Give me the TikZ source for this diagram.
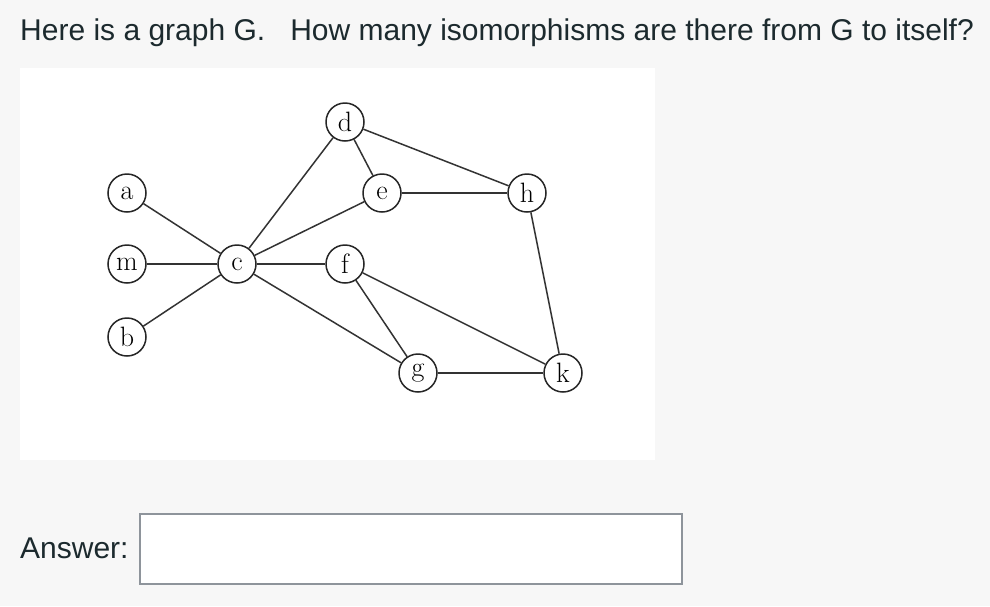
\documentclass[tikz,border=0pt]{standalone}
\usepackage{fontspec}
\newfontfamily\uifont{Liberation Sans}
\usetikzlibrary{positioning}
\definecolor{pagegray}{HTML}{F7F7F7}
\definecolor{inktext}{HTML}{1C2A2E}
\definecolor{boxgray}{HTML}{8E949B}
\definecolor{edgegray}{HTML}{333333}

\begin{document}
\begin{tikzpicture}[x=1pt,y=-1pt,
    vertex/.style={draw=black!85,circle,fill=white,line width=1.5pt,minimum size=38pt,inner sep=0pt,font=\fontsize{28}{28}\selectfont},
    every edge/.style={draw=edgegray,line width=1.5pt}]
    % page and figure area
    \fill [pagegray] (0,0) rectangle (990,606);
    \fill [white] (20,68) rectangle (655,460);
    \node [anchor=base west,inner sep=0pt,text=inktext,font=\uifont\fontsize{30}{36}\selectfont] (question) at (20,40) {Here is a graph G.\ \ \ How many isomorphisms are there from G to itself?};

    \node [vertex] (a) at (127,193) {a};
    \node [vertex] (m) at (127,264) {m};
    \node [vertex] (b) at (127,337) {b};
    \node [vertex] (c) at (237,264) {c};
    \node [vertex] (d) at (345,122) {d};
    \node [vertex] (e) at (382,193) {e};
    \node [vertex] (f) at (345,264) {f};
    \node [vertex] (h) at (527,193) {h};
    \node [vertex] (g) at (418,373) {g};
    \node [vertex] (k) at (563,373) {k};

    \path
        (a) edge (c)
        (m) edge (c)
        (b) edge (c)
        (c) edge (d)
        (c) edge (e)
        (c) edge (f)
        (c) edge (g)
        (d) edge (e)
        (d) edge (h)
        (e) edge (h)
        (f) edge (g)
        (f) edge (k)
        (h) edge (k)
        (g) edge (k)
    ;

    % answer field
    \node [anchor=base west,inner sep=0pt,text=inktext,font=\uifont\fontsize{30}{36}\selectfont] (answer) at (20,558) {Answer:};
    \node [draw=boxgray,fill=white,line width=1.5pt,minimum width=542pt,minimum height=70pt,inner sep=0pt,anchor=north west] (field) at (139,513) {};
\end{tikzpicture}
\end{document}
